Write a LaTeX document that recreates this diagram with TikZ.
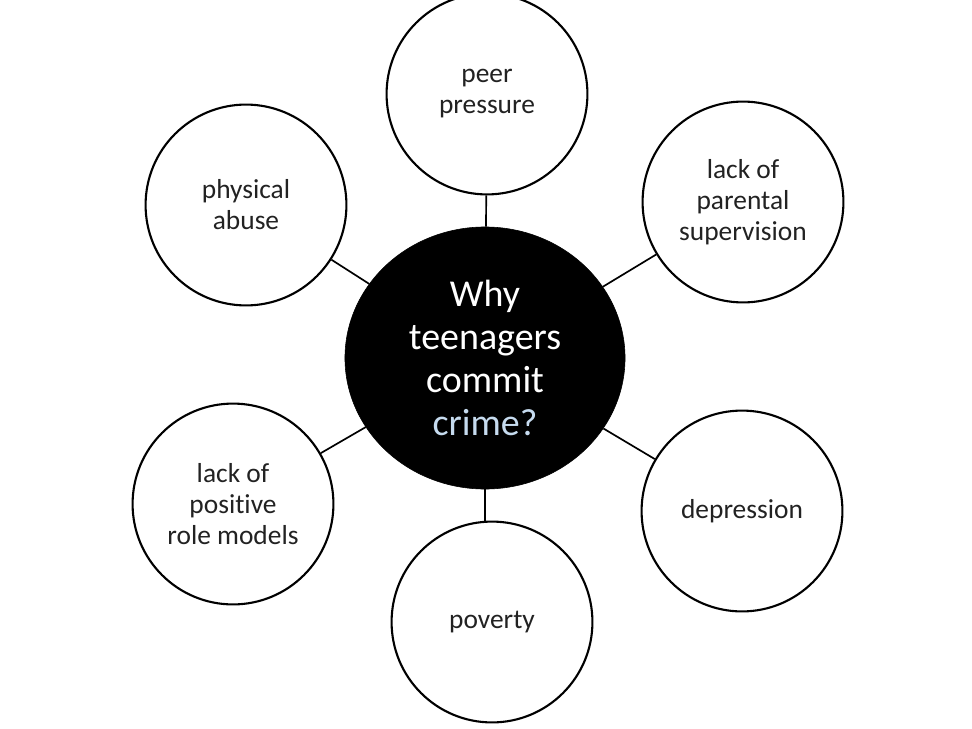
\documentclass[tikz,border=0pt]{standalone}
\usepackage{fontspec}
\setmainfont{Carlito}[Ligatures=NoCommon]
\usepackage{xcolor}
\usepackage{tikz}
\usetikzlibrary{shapes.geometric}
\definecolor{bg}{HTML}{FFFFFF}
\definecolor{ink}{HTML}{000000}
\definecolor{txt}{HTML}{222222}
\definecolor{hub}{HTML}{000000}
\definecolor{pale}{HTML}{C6DBEF}
\tikzset{
  cause/.style={circle, draw=ink, line width=1.5pt, fill=bg, minimum size=5.02cm, inner sep=0pt,
    align=center, text=txt, font=\fontsize{19.5}{22}\selectfont},
  core/.style={ellipse, fill=hub, draw=hub, minimum width=7cm, minimum height=6.55cm, inner sep=0pt,
    align=center, text=white, font=\fontsize{27}{30.5}\selectfont},
  link/.style={draw=ink, line width=1.2pt},
}
\begin{document}
\begin{tikzpicture}[x=0.025cm, y=-0.025cm]
\useasboundingbox[fill=bg] (0,0) rectangle (972,729);
% centre
\node[core] (why) at (485,358) {Why\\teenagers\\commit\\\textcolor{pale}{crime?}};
% causes
\node[cause] (peer) at (487,94) {peer\\pressure};
\node[cause] (parent) at (743,202) {lack of\\parental\\supervision};
\node[cause] (depr) at (742,511) {depression};
\node[cause] (pov) at (492,622) {poverty};
\node[cause] (role) at (233,504) {lack of\\positive\\role models};
\node[cause] (abuse) at (246,205) {physical\\abuse};
% links
\draw[link] (peer) -- (why);
\draw[link] (parent) -- (why);
\draw[link] (depr) -- (why);
\draw[link] (pov.north -| why.south) -- (why.south);
\draw[link] (role) -- (why);
\draw[link] (abuse) -- (why);
\end{tikzpicture}
\end{document}
